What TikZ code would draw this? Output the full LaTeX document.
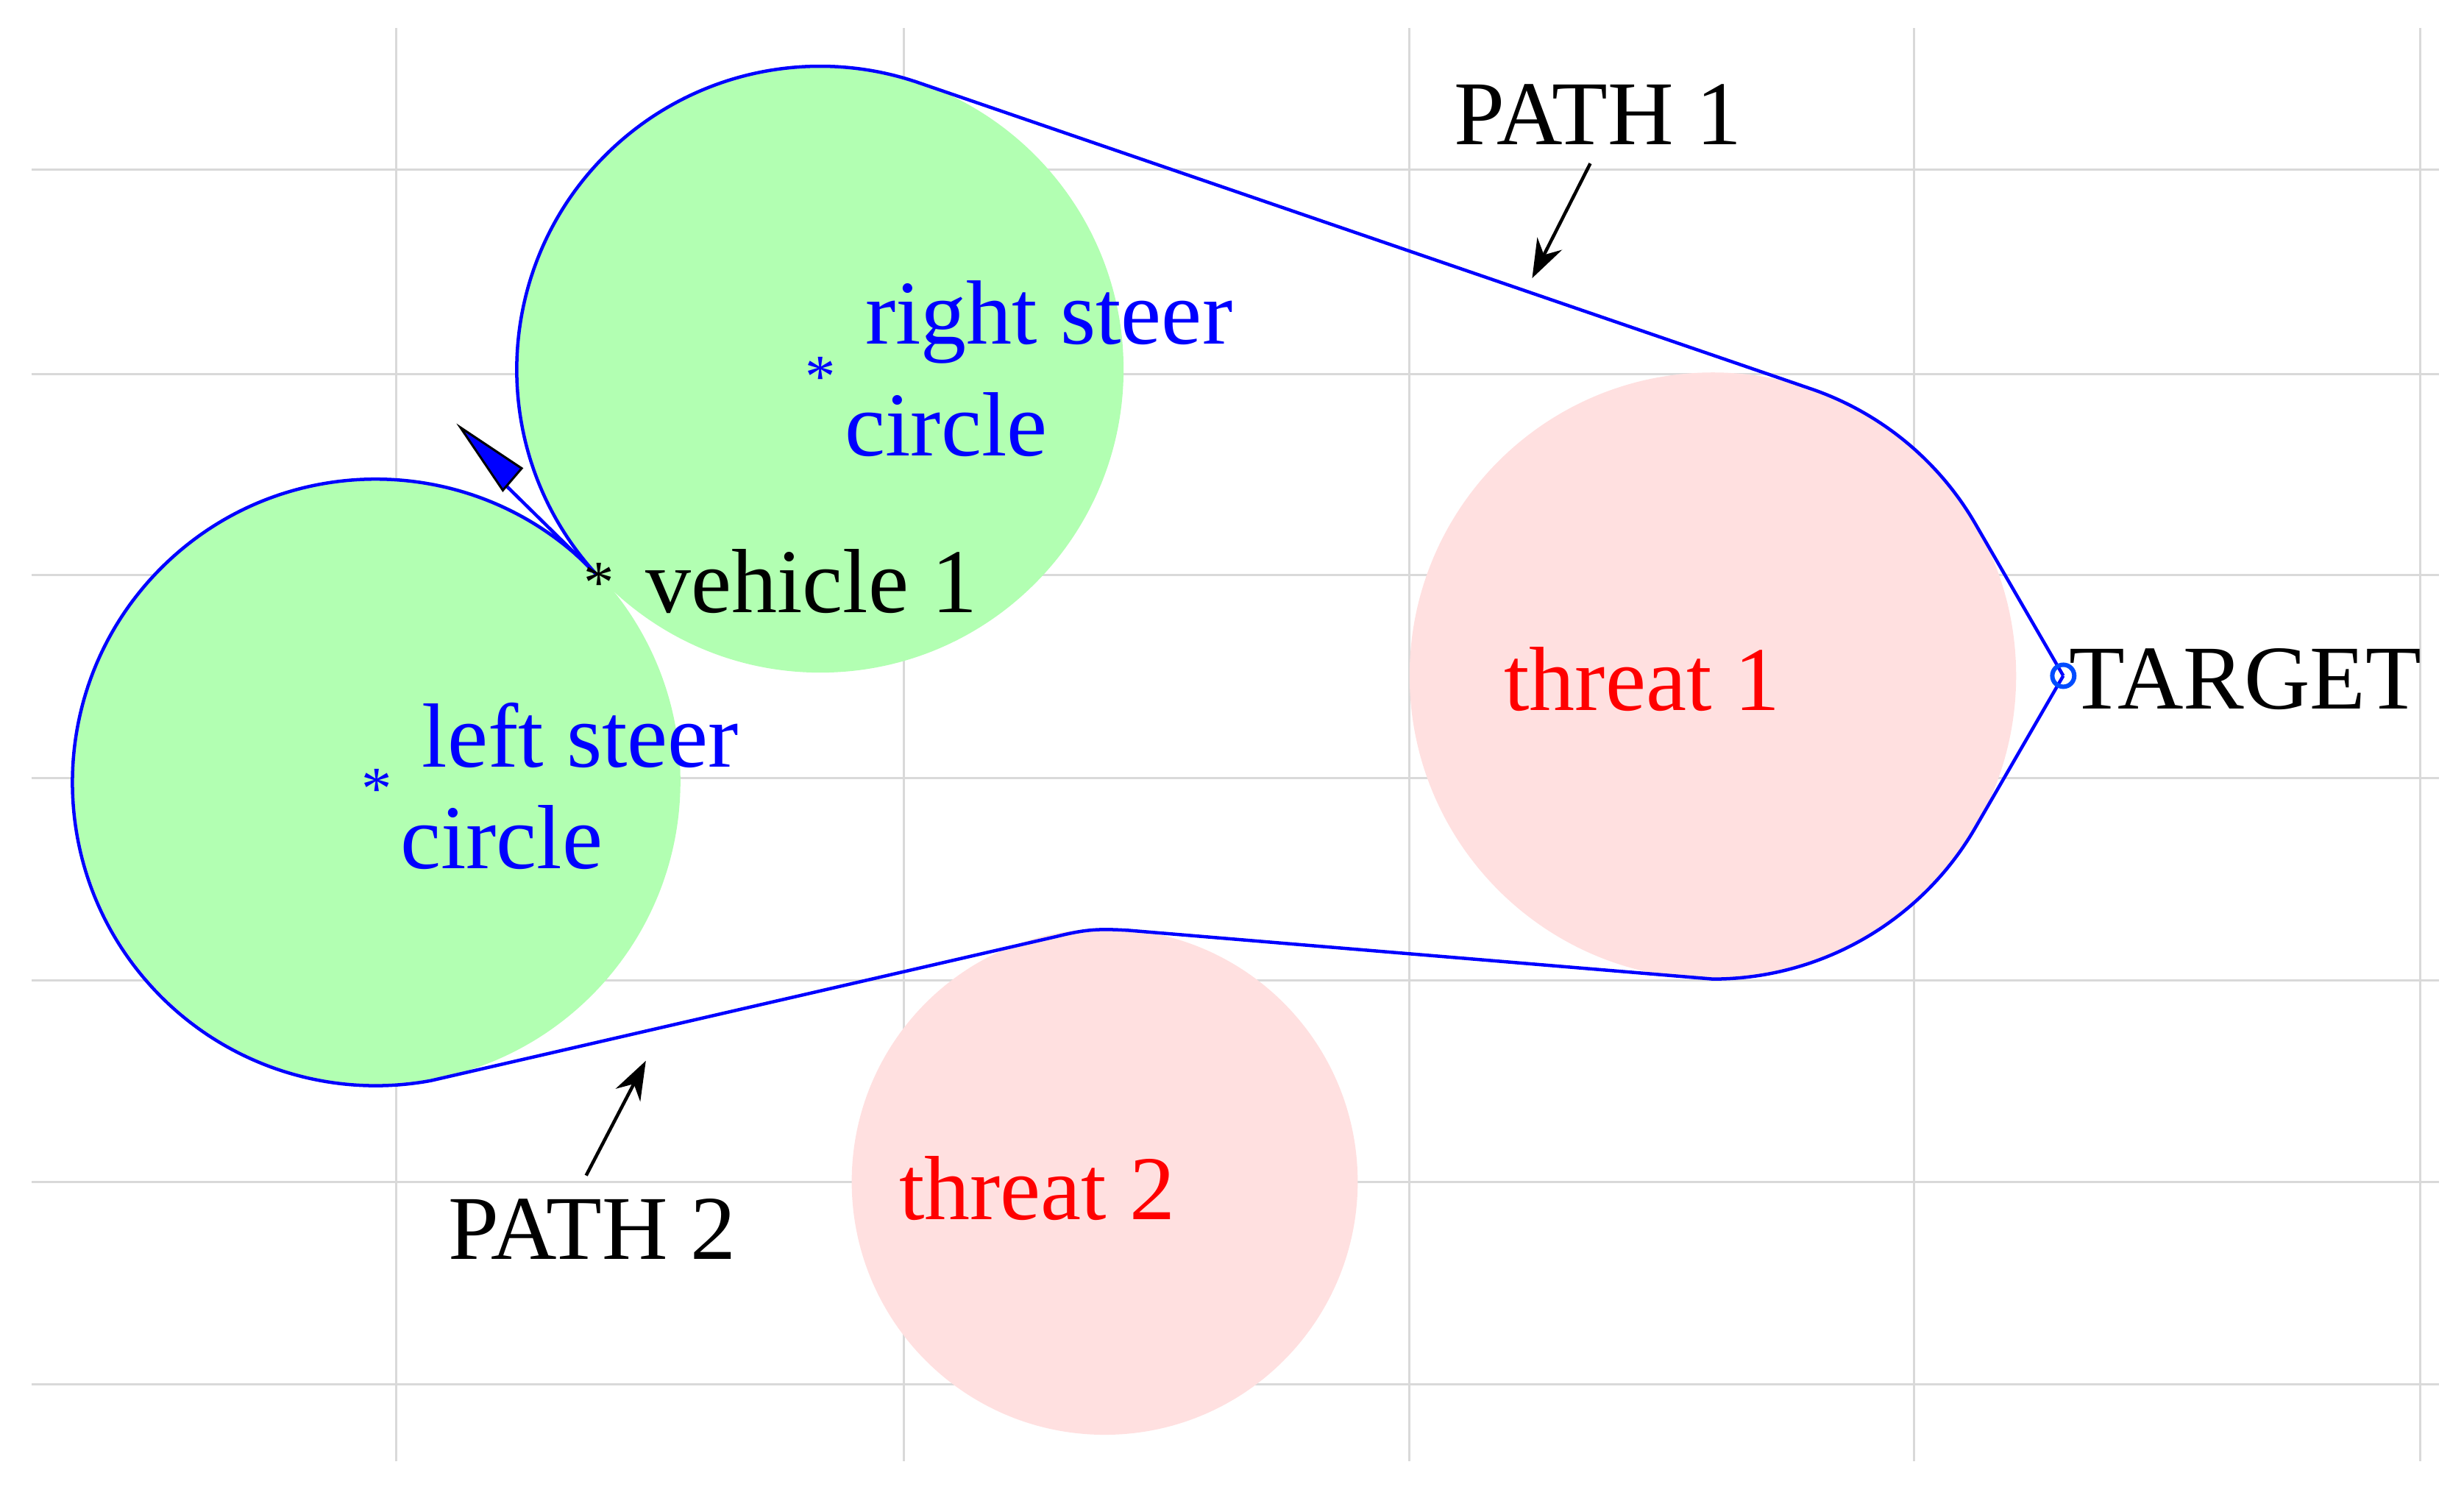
\documentclass[tikz,border=0pt]{standalone}
\usepackage{fontspec}
\setmainfont{Liberation Serif}
\usetikzlibrary{arrows.meta}
\begin{document}
\begin{tikzpicture}[x=0.01cm,y=-0.01cm,
  grid/.style={gray!30,line width=0.4pt},
  pth/.style={blue,line width=0.6pt},
  lbl/.style={font=\fontsize{16.5}{20}\selectfont,inner sep=0pt},
  mk/.style={font=\fontsize{11}{11}\selectfont,inner sep=0pt},
  ptr/.style={-{Stealth[length=7pt,width=5pt]},line width=0.6pt}]
\useasboundingbox (0,0) rectangle (1568,953);
\foreach \x in {252,575,897,1218,1540} \draw[grid] (\x,18) -- (\x,930);
\foreach \y in {108,238,366,495,624,752,881} \draw[grid] (20,\y) -- (1552,\y);
% circles
\fill[green!30] (522,235) circle (193);
\fill[green!30] (240,497) circle (193);
\fill[red!12] (1090,430) circle (193);
\fill[red!12] (703,752) circle (161);
% points
\coordinate (veh) at (380,366);
\coordinate (tgt) at (1313,430);
% path 1
\draw[pth] (veh) arc[start angle=137.3,end angle=288.95,radius=193]
  -- (1152.7,247.5) arc[start angle=-71.05,end angle=-30.06,radius=193] -- (tgt);
% path 2
\draw[pth] (veh) arc[start angle=-43.1,end angle=-280.5,radius=193]
  -- (672,596) .. controls (692,591) and (700,591) .. (718,592) -- (1090,623)
  arc[start angle=90,end angle=30.06,radius=193] -- (tgt);
% heading arrow
\draw[blue,line width=0.6pt] (veh) -- (318,305);
\filldraw[blue,draw=black,line width=0.4pt] (293,272) -- (332,298) -- (320,312) -- cycle;
% markers
\node[mk,blue] (rc) at (522,240) {*};
\node[mk,blue] (lc) at (240,502) {*};
\node[mk] (vm) at (381,371) {*};
\draw[blue!70!cyan,line width=0.8pt] (tgt) circle (7);
% labels
\node[lbl,blue,anchor=west] (rs1) at (550,205) {right steer};
\node[lbl,blue,anchor=west] (rs2) at (537,270) {circle};
\node[lbl,blue,anchor=west] (ls1) at (268,468) {left steer};
\node[lbl,blue,anchor=west] (ls2) at (254,533) {circle};
\node[lbl,anchor=west] (vl) at (410,370) {vehicle 1};
\node[lbl,red] (t1) at (1045,432) {threat 1};
\node[lbl,red] (t2) at (660,756) {threat 2};
\node[lbl,anchor=west] (tl) at (1316,432) {TARGET};
\node[lbl] (p1) at (1017,73) {PATH 1};
\node[lbl] (p2) at (377,782) {PATH 2};
\coordinate (p1s) at (1012,104); \coordinate (p1e) at (975,177);
\coordinate (p2s) at (373,748); \coordinate (p2e) at (411,675);
\draw[ptr] (p1s) -- (p1e);
\draw[ptr] (p2s) -- (p2e);
\end{tikzpicture}
\end{document}
